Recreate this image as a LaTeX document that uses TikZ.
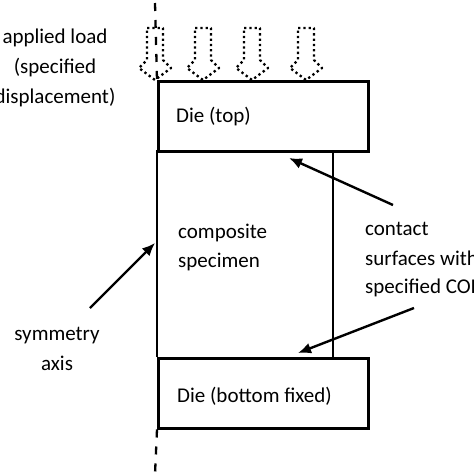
\documentclass[tikz,border=0pt]{standalone}
\usepackage{fontspec}
\setmainfont{Carlito}
\usetikzlibrary{arrows.meta}
\begin{document}
\begin{tikzpicture}[x=1pt,y=-1pt,
  diebox/.style={draw, line width=2.5pt, minimum width=210pt, minimum height=70pt, anchor=north west, inner sep=0pt},
  specbox/.style={minimum width=176pt, minimum height=207pt, anchor=north west, inner sep=0pt},
  lbl/.style={font=\fontsize{21}{28}\selectfont, inner sep=0pt},
  pointer/.style={line width=2.4pt, -{Latex[length=13pt,width=11pt]}},
  loadarrow/.style={line width=2.3pt, dash pattern=on 2.3pt off 3pt, line join=round},
  axisline/.style={line width=2.3pt, dash pattern=on 8pt off 9pt},
  specedge/.style={line width=1.6pt},
  specdash/.style={line width=2.8pt, dash pattern=on 3pt off 2pt},
  thinedge/.style={line width=2pt},
]
\useasboundingbox (0,0) rectangle (474,474);
\clip (0,0) rectangle (474,474);

% boxes
\node[diebox] (topdie) at (157,80) {};
\node[diebox] (botdie) at (157,357) {};
\node[specbox] (spec) at (157,150) {};
\draw[thinedge] (spec.north east) -- (spec.south east);
\draw[specedge] (spec.north west) -- (spec.south west);
\draw[specdash] (spec.north west) -- (spec.south west);

% symmetry axis
\coordinate (axtop) at (155,3);
\coordinate (axbot) at (155,474);
\draw[axisline] (axtop) -- (topdie.north west);
\draw[axisline] (botdie.south west) -- (axbot);

% load arrows
\foreach \c/\n in {155/la, 203/lb, 252/lc, 306/ld}{
  \draw[loadarrow] (\c-8,28) -- (\c+8,28) -- (\c+8,60) -- (\c+16,68) -- (\c,80) -- (\c-16,68) -- (\c-8,60) -- cycle;
}

% texts
\node[lbl, anchor=base] (ap1) at (55,43) {applied load};
\node[lbl, anchor=base] (ap2) at (55,73) {(specified};
\node[lbl, anchor=base] (ap3) at (55,103) {displacement)};

\node[lbl, anchor=base west] (tt) at (176,122) {Die (top)};
\node[lbl, anchor=base west] (bt) at (177,402) {Die (bottom fixed)};

\node[lbl, anchor=base west] (sp1) at (178,238) {composite};
\node[lbl, anchor=base west] (sp2) at (178,267) {specimen};

\node[lbl, anchor=base west] (ct1) at (365,235) {contact};
\node[lbl, anchor=base west] (ct2) at (365,265) {surfaces with};
\node[lbl, anchor=base west] (ct3) at (365,293) {specified COF};

\node[lbl, anchor=base] (sy1) at (57,340) {symmetry};
\node[lbl, anchor=base] (sy2) at (57,370) {axis};

% pointers
\coordinate (c1tail) at (393,205);
\coordinate (c1tip) at (289,158);
\coordinate (c2tail) at (414,308);
\coordinate (c2tip) at (298,353);
\coordinate (s1tail) at (90,308);
\coordinate (s1tip) at (155,243);
\draw[pointer] (c1tail) -- (c1tip);
\draw[pointer] (c2tail) -- (c2tip);
\draw[pointer] (s1tail) -- (s1tip);
\end{tikzpicture}
\end{document}
